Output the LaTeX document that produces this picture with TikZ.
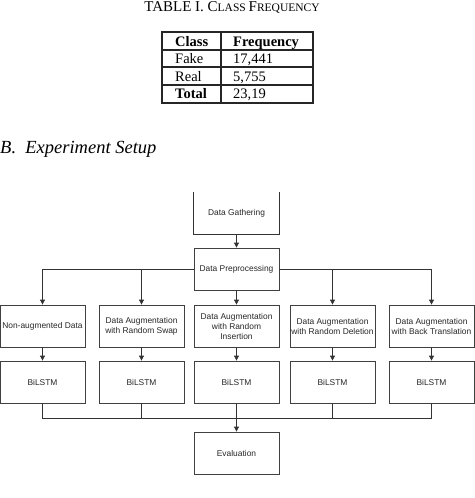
\documentclass[tikz,border=0pt]{standalone}
\usepackage{fontspec}
\setmainfont{Liberation Serif}
\newfontfamily\diagfont{Liberation Sans}
\usetikzlibrary{arrows.meta}
\begin{document}
\begin{tikzpicture}[x=1pt,y=-1pt,
  box/.style={draw=black!75,line width=0.8pt,minimum width=85pt,minimum height=42pt,inner sep=0pt,
    align=center,font=\diagfont\fontsize{8.4}{10}\selectfont,text=black!85},
  conn/.style={draw=black!80,line width=0.8pt},
  arr/.style={conn,-{Triangle[length=5pt,width=5pt]}},
  cell/.style={anchor=base west,inner sep=0pt,font=\fontsize{14.5}{14.5}\selectfont},
  bcell/.style={cell,font=\fontsize{14.5}{14.5}\selectfont\bfseries}]
\useasboundingbox (0,0) rectangle (474,498);
% Title
\node[anchor=base,inner sep=0pt] (title) at (232,11)
  {\fontsize{15}{15}\selectfont TABLE I. C\fontsize{11.5}{11.5}\selectfont LASS \fontsize{15}{15}\selectfont F\fontsize{11.5}{11.5}\selectfont REQUENCY};
% Table
\draw[black!85,line width=1.3pt] (162,32) rectangle (313,103);
\draw[black!85,line width=1.3pt] (162,50) -- (313,50) (162,67) -- (313,67) (162,85) -- (313,85) (221,32) -- (221,103);
\node[bcell] (c11) at (175,46) {Class};
\node[bcell] (c12) at (233,46) {Frequency};
\node[cell] (c21) at (175,63.5) {Fake};
\node[cell] (c22) at (233,63.5) {17,441};
\node[cell] (c31) at (175,81) {Real};
\node[cell] (c32) at (233,81) {5,755};
\node[bcell] (c41) at (175,98.5) {Total};
\node[cell] (c42) at (233,98.5) {23,19};
% Section heading
\node[anchor=base west,inner sep=0pt,font=\fontsize{18.5}{18.5}\selectfont\itshape] (sec) at (0,153) {B.\hspace{0.5em}Experiment Setup};
% Diagram
\node[box,draw=none] (dg) at (236.5,213) {Data Gathering};
\draw[conn] (dg.north west) -- (dg.south west) -- (dg.south east) -- (dg.north east);
\node[box] (dp) at (236.5,269) {Data Preprocessing};
\node[box] (a1) at (42.5,326) {Non-augmented Data};
\node[box] (a2) at (141.5,326) {Data Augmentation\\with Random Swap};
\node[box] (a3) at (236.5,326) {Data Augmentation\\with Random\\Insertion};
\node[box] (a4) at (332.5,326) {Data Augmentation\\with Random Deletion};
\node[box] (a5) at (431.5,326) {Data Augmentation\\with Back Translation};
\node[box] (b1) at (42.5,382) {BiLSTM};
\node[box] (b2) at (141.5,382) {BiLSTM};
\node[box] (b3) at (236.5,382) {BiLSTM};
\node[box] (b4) at (332.5,382) {BiLSTM};
\node[box] (b5) at (431.5,382) {BiLSTM};
\node[box] (ev) at (236.5,453) {Evaluation};
\coordinate (merge) at (236.5,418);
\draw[arr] (dg) -- (dp);
\draw[arr] (dp.west) -| (a1.north);
\draw[arr] (dp.west) -| (a2.north);
\draw[arr] (dp) -- (a3);
\draw[arr] (dp.east) -| (a4.north);
\draw[arr] (dp.east) -| (a5.north);
\foreach \i in {1,...,5}{\draw[arr] (a\i) -- (b\i);}
\draw[conn] (b1.south) -- (b1.south |- merge) -- (b5.south |- merge) -- (b5.south);
\draw[conn] (b2.south) -- (b2.south |- merge);
\draw[conn] (b4.south) -- (b4.south |- merge);
\draw[arr] (b3) -- (ev);
\end{tikzpicture}
\end{document}
